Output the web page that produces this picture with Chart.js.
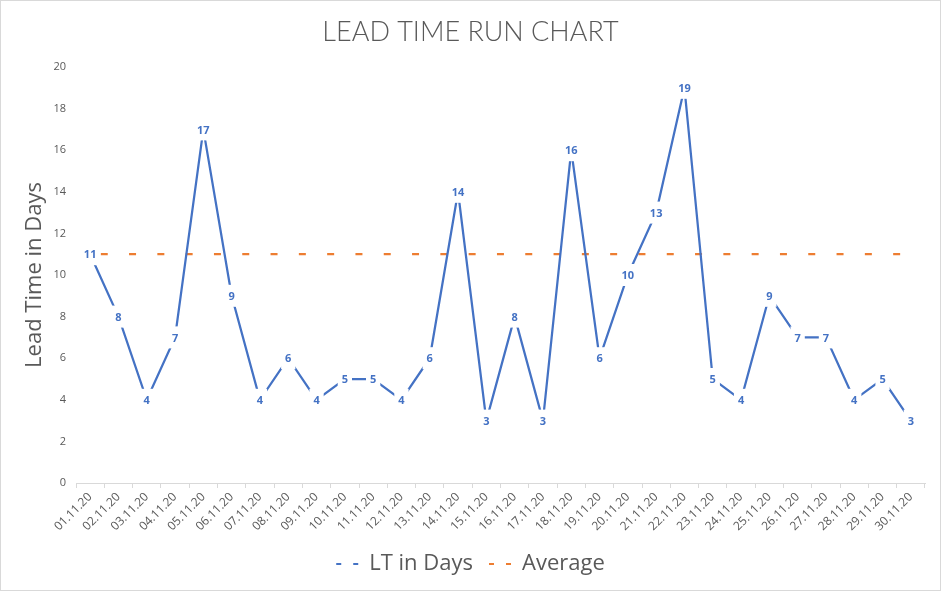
<!DOCTYPE html>
<html>
<head>
<meta charset="utf-8">
<script src="https://cdn.jsdelivr.net/npm/chart.js@4.4.1/dist/chart.umd.min.js"></script>
<style>
html,body{margin:0;padding:0;background:#fff;}
#wrap{width:941px;height:591px;position:relative;}
</style>
</head>
<body>
<div id="wrap"><canvas id="c" width="941" height="591"></canvas></div>
<script>
const categories = ["01.11.20","02.11.20","03.11.20","04.11.20","05.11.20","06.11.20","07.11.20","08.11.20","09.11.20","10.11.20","11.11.20","12.11.20","13.11.20","14.11.20","15.11.20","16.11.20","17.11.20","18.11.20","19.11.20","20.11.20","21.11.20","22.11.20","23.11.20","24.11.20","25.11.20","26.11.20","27.11.20","28.11.20","29.11.20","30.11.20"];
const ltInDays = [11,8,4,7,17,9,4,6,4,5,5,4,6,14,3,8,3,16,6,10,13,19,5,4,9,7,7,4,5,3];
const average = [11,11,11,11,11,11,11,11,11,11,11,11,11,11,11,11,11,11,11,11,11,11,11,11,11,11,11,11,11,11];
const yTicks = {min:0, max:20, step:2};

const FONT = "'Open Sans', 'Liberation Sans', sans-serif";

const labelPlugin = {
  id:'labels',
  afterDatasetsDraw(chart){
    const ctx = chart.ctx;
    const meta = chart.getDatasetMeta(0);
    ctx.save();
    ctx.font = "bold 11px " + FONT;
    ctx.textAlign='center'; ctx.textBaseline='middle';
    meta.data.forEach((pt,i)=>{
      const t = String(ltInDays[i]);
      const w = ctx.measureText(t).width;
      ctx.fillStyle='#ffffff';
      ctx.fillRect(pt.x - w/2 - 4, pt.y - 11, w + 8, 22);
      ctx.fillStyle='#4472C4';
      ctx.fillText(t, pt.x, pt.y+1);
    });
    ctx.restore();
  }
};
const borderPlugin = {
  id:'outer',
  beforeDraw(chart){
    const ctx=chart.ctx;
    ctx.save();
    ctx.fillStyle='#fff';
    ctx.fillRect(0,0,chart.width,chart.height);
    ctx.restore();
  },
  afterDraw(chart){
    const ctx=chart.ctx;
    ctx.save();
    ctx.strokeStyle='#d9d9d9'; ctx.lineWidth=1;
    ctx.strokeRect(0.5,0.5,chart.width-1,chart.height-1);
    ctx.restore();
  }
};

new Chart(document.getElementById('c'), {
  type:'line',
  data:{
    labels:categories,
    datasets:[
      {label:'LT in Days', data:ltInDays, borderColor:'#4472C4', backgroundColor:'#4472C4', borderWidth:2.25, pointRadius:0, tension:0, order:1},
      {label:'Average', data:average, borderColor:'#ED7D31', backgroundColor:'#ED7D31', borderWidth:2.25, pointRadius:0, borderDash:[7,21.3], borderDashOffset:17.7, order:2}
    ]
  },
  plugins:[borderPlugin,labelPlugin],
  options:{
    responsive:false,
    animation:false,
    devicePixelRatio:1,
    layout:{padding:{left:16,right:16,top:0,bottom:6}},
    plugins:{
      title:{display:true,text:'LEAD TIME RUN CHART',color:'#595959',font:{family:"Lato, "+FONT,size:27,weight:'300'},padding:{top:16,bottom:18.6}},
      legend:{
        position:'bottom',
        labels:{
          usePointStyle:true,
          pointStyleWidth:22,
          boxHeight:10,
          color:'#595959',
          font:{family:FONT,size:22},
          padding:16,
          generateLabels(chart){
            return chart.data.datasets.map((d,i)=>({
              text:d.label, fillStyle:d.borderColor, strokeStyle:d.borderColor,
              lineWidth:2, lineDash:[5,12], pointStyle:'line', datasetIndex:i, fontColor:'#595959'
            }));
          }
        }
      },
      tooltip:{enabled:false}
    },
    scales:{
      x:{
        offset:true,
        afterFit(s){ s.height = 54; },
        grid:{display:true,drawOnChartArea:false,drawTicks:true,tickLength:5,color:'#d9d9d9',offset:true},
        border:{display:true,color:'#d9d9d9',width:1},
        ticks:{color:'#595959',font:{family:FONT,size:12},minRotation:45,maxRotation:45,autoSkip:false,padding:2}
      },
      y:{
        min:yTicks.min,max:yTicks.max,
        afterFit(s){ s.width = 60; },
        grid:{display:false,drawTicks:false},
        border:{display:false},
        ticks:{stepSize:yTicks.step,color:'#595959',font:{family:FONT,size:11},padding:10},
        title:{display:true,text:'Lead Time in Days',color:'#595959',font:{family:FONT,size:22},padding:{top:6,bottom:0}}
      }
    }
  }
});
</script>
</body>
</html>
